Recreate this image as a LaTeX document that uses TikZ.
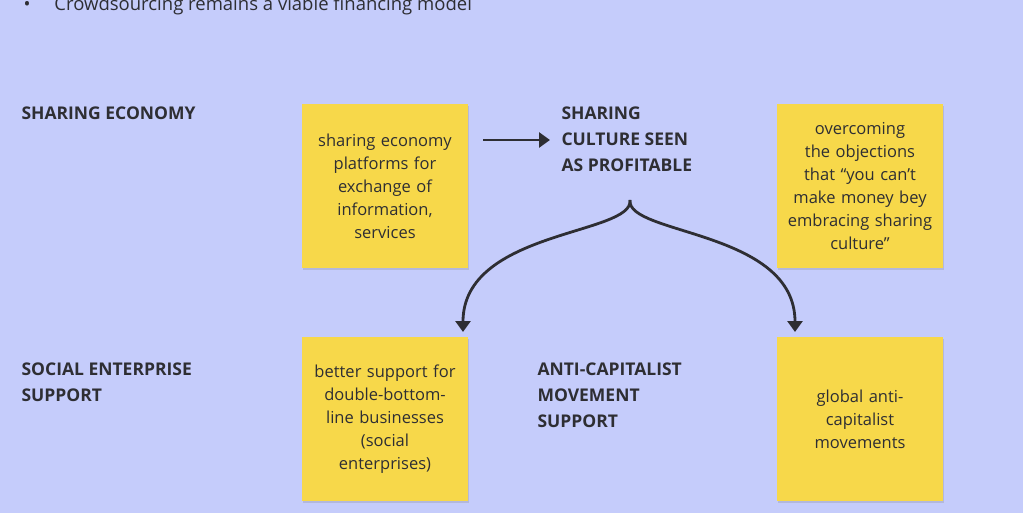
\documentclass[tikz,border=0pt]{standalone}
\usepackage{fontspec}
\setmainfont{Open Sans}
\usetikzlibrary{arrows.meta,shadows}
\definecolor{bg}{HTML}{C5CCFB}
\definecolor{note}{HTML}{F7D84A}
\definecolor{ink}{HTML}{2E2E33}
\tikzset{
  sticky/.style={fill=note, minimum width=164pt, minimum height=164pt, align=center,
    text width=160pt, font=\fontsize{16.5}{23}\selectfont, text=ink,
    drop shadow={shadow xshift=1pt, shadow yshift=-2pt, opacity=0.25}},
  label/.style={anchor=north west, align=left, font=\fontsize{17.5}{26}\selectfont\bfseries, text=ink},
  link/.style={ink, line width=2.8pt, -{Triangle[length=11pt,width=15pt]}}
}
\begin{document}
\begin{tikzpicture}[x=1pt,y=-1pt]
\fill[bg] (0,0) rectangle (1023,513);
\useasboundingbox (0,0) rectangle (1023,513);
\node[anchor=west, text=ink, font=\fontsize{18.5}{20}\selectfont] (top) at (20,6) {•\hspace{24pt}Crowdsourcing remains a viable financing model};
\node[label] (l1) at (18,103) {SHARING ECONOMY};
\node[label] (l2) at (18,359) {SOCIAL ENTERPRISE\\SUPPORT};
\node[label] (l3) at (558,103) {SHARING\\CULTURE SEEN\\AS PROFITABLE};
\node[label] (l4) at (534,359) {ANTI-CAPITALIST\\MOVEMENT\\SUPPORT};
\node[sticky] (s1) at (385,186) {sharing economy\\platforms for\\exchange of\\information,\\services};
\node[sticky] (s2) at (860,186) {overcoming\\the objections\\that “you can’t\\make money bey\\embracing sharing\\culture”};
\node[sticky] (s3) at (385,419) {better support for\\double-bottom-\\line businesses\\(social\\enterprises)};
\node[sticky] (s4) at (860,419) {global anti-\\capitalist\\movements};
\coordinate (a0) at (483,140);
\coordinate (a1) at (550,140);
\coordinate (apex) at (630,200);
\coordinate (e1) at (463,332);
\coordinate (e2) at (795,332);
\draw[link] (a0) -- (a1);
\draw[link] (apex) .. controls (634,235) and (463,230) .. (e1);
\draw[link] (apex) .. controls (626,235) and (795,230) .. (e2);
\end{tikzpicture}
\end{document}
